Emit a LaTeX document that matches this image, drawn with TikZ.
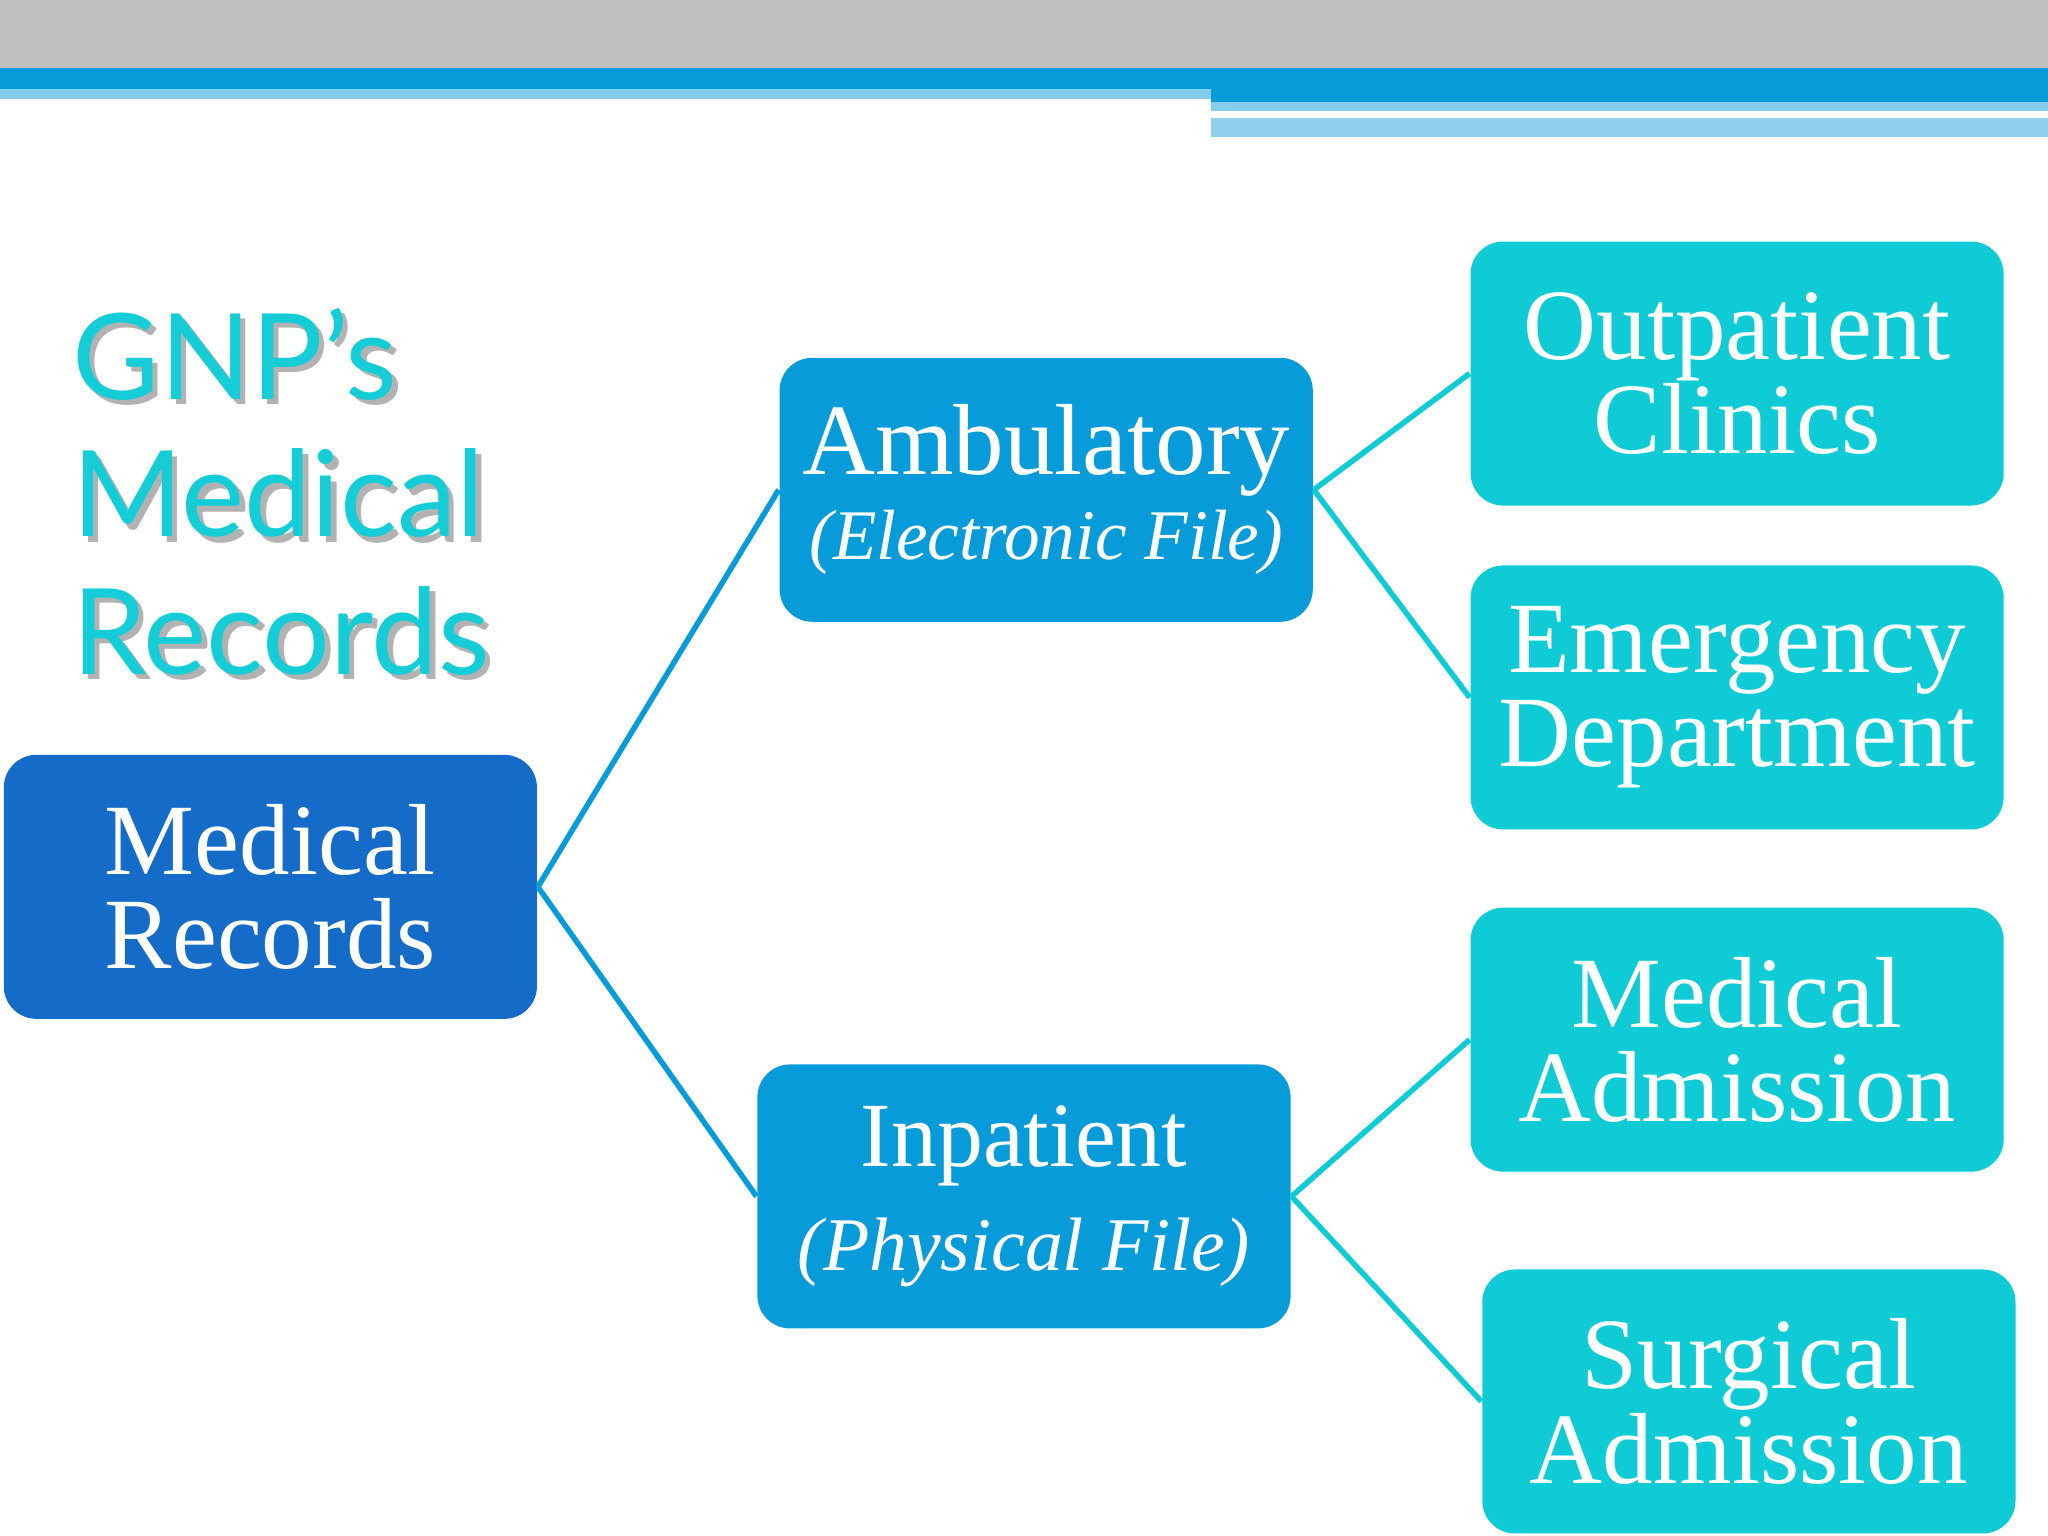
\documentclass[tikz,border=0pt]{standalone}
\usepackage{fontspec}
\setmainfont{Liberation Serif}
\newfontfamily\titlefont{Lato}
\begin{document}
\begin{tikzpicture}[x=0.01cm,y=-0.01cm,
  box/.style={rounded corners=0.25cm,minimum width=4.08cm,minimum height=2.02cm,text=white,align=center,inner sep=0},
  dark/.style={box,fill=mrblue},
  mid/.style={box,fill=ambblue},
  cy/.style={box,fill=cyanbox},
  big/.style={font=\fontsize{22}{20.5}\selectfont},
  lb/.style={draw=ambblue,line width=1.2pt},
  lc/.style={draw=cyanbox,line width=1.2pt},
  ttl/.style={anchor=north west,font=\titlefont\fontsize{26}{30}\selectfont,align=left,inner sep=0}]
\definecolor{mrblue}{RGB}{20,108,200}
\definecolor{ambblue}{RGB}{8,155,217}
\definecolor{cyanbox}{RGB}{14,203,214}
\definecolor{titlecol}{RGB}{20,205,215}
\useasboundingbox (0,0) rectangle (1568,1176);
% header
\fill[gray!50] (0,0) rectangle (1568,52);
\fill[ambblue] (0,52) rectangle (1568,68);
\fill[ambblue!50] (0,68) rectangle (927,76);
\fill[ambblue] (927,68) rectangle (1568,78);
\fill[ambblue!50] (927,78) rectangle (1568,85);
\fill[ambblue!45] (927,90) rectangle (1568,105);
\fill[white] (927,85) rectangle (1452,90);
% title
\node[ttl,text=gray!60] (titleshadow) at (59,239) {GNP’s\\Medical\\Records};
\node[ttl,text=titlecol] (title) at (55,235) {GNP’s\\Medical\\Records};
% boxes
\node[dark,big] (mr) at (207,679) {Medical\\Records};
\node[mid] (amb) at (801,375) {{\fontsize{22}{20.5}\selectfont Ambulatory}\\[2pt]{\fontsize{15.5}{17}\selectfont\itshape (Electronic File)}};
\node[mid] (inp) at (784,916) {{\fontsize{20}{24}\selectfont Inpatient}\\[6pt]{\fontsize{16.5}{18}\selectfont\itshape (Physical File)}};
\node[cy,big] (out) at (1330,286) {Outpatient\\Clinics};
\node[cy,big] (em) at (1330,534) {Emergency\\Department};
\node[cy,big] (ma) at (1330,796) {Medical\\Admission};
\node[cy,big] (sa) at (1339,1073) {Surgical\\Admission};
% connectors
\draw[lb] (mr.east) -- (amb.west);
\draw[lb] (mr.east) -- (inp.west);
\draw[lc] (amb.east) -- (out.west);
\draw[lc] (amb.east) -- (em.west);
\draw[lc] (inp.east) -- (ma.west);
\draw[lc] (inp.east) -- (sa.west);
\end{tikzpicture}
\end{document}
